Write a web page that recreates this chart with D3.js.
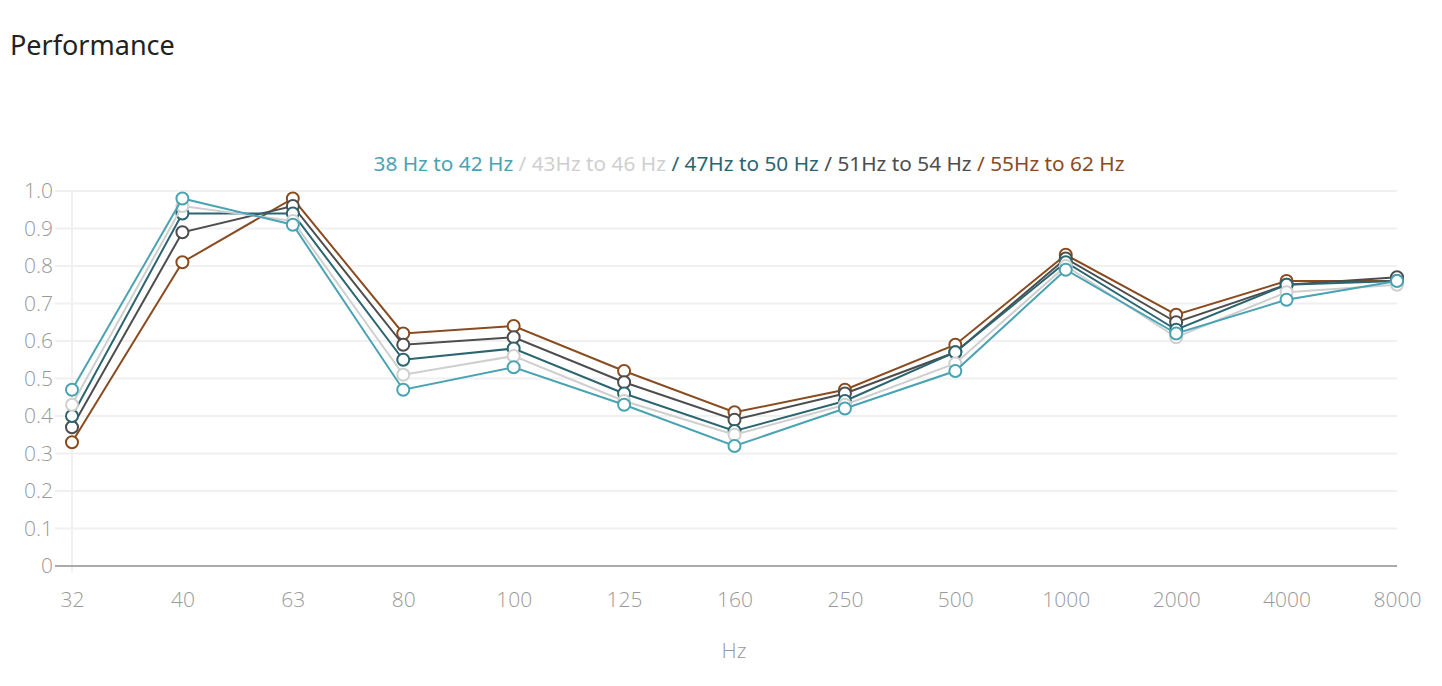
<!DOCTYPE html>
<meta charset="utf-8">
<style>
body { margin: 0; background: #fff; }
.title { font-family: "Noto Sans", sans-serif; font-size: 27px; fill: #222; }
.legend { font-family: "Noto Sans", sans-serif; font-size: 20.8px; }
.tick text, .axis-label { font-family: "Open Sans", sans-serif; font-weight: 300; font-size: 21px; fill: #999; }
.grid line { stroke: #f0f0f0; stroke-width: 2; }
</style>
<svg width="1442" height="686"></svg>
<script src="https://d3js.org/d3.v7.min.js"></script>
<script>
var categories = ["32", "40", "63", "80", "100", "125", "160", "250", "500", "1000", "2000", "4000", "8000"];
var yTicks = [0, 0.1, 0.2, 0.3, 0.4, 0.5, 0.6, 0.7, 0.8, 0.9, 1.0];

var seriesNames = ["38 Hz to 42 Hz", "43Hz to 46 Hz", "47Hz to 50 Hz", "51Hz to 54 Hz", "55Hz to 62 Hz"];
var seriesColors = ["#4aa3b2", "#cfcfcf", "#2b6570", "#4d4d4d", "#8a4b1f"];

var s38 = [0.47, 0.98, 0.91, 0.47, 0.53, 0.43, 0.32, 0.42, 0.52, 0.79, 0.62, 0.71, 0.76];
var s43 = [0.43, 0.96, 0.92, 0.51, 0.56, 0.44, 0.35, 0.43, 0.54, 0.80, 0.61, 0.73, 0.75];
var s47 = [0.40, 0.94, 0.94, 0.55, 0.58, 0.46, 0.36, 0.44, 0.57, 0.81, 0.63, 0.75, 0.76];
var s51 = [0.37, 0.89, 0.96, 0.59, 0.61, 0.49, 0.39, 0.46, 0.57, 0.82, 0.65, 0.75, 0.77];
var s55 = [0.33, 0.81, 0.98, 0.62, 0.64, 0.52, 0.41, 0.47, 0.59, 0.83, 0.67, 0.76, 0.76];
var seriesValues = [s38, s43, s47, s51, s55];

var svg = d3.select("svg");

var x = d3.scalePoint().domain(categories).range([72, 1397]);
var y = d3.scaleLinear().domain([0, 1]).range([566, 191]);

svg.append("text")
    .attr("class", "title")
    .attr("x", 10)
    .attr("y", 55)
    .text("Performance");

// legend
var legend = svg.append("text")
    .attr("class", "legend")
    .attr("x", 749)
    .attr("y", 171)
    .attr("text-anchor", "middle");
seriesNames.forEach(function(name, i) {
  legend.append("tspan")
      .attr("fill", seriesColors[i])
      .text((i > 0 ? " / " : "") + name);
});

// horizontal grid
svg.append("g")
    .attr("class", "grid")
  .selectAll("line")
  .data(yTicks.slice(1))
  .join("line")
    .attr("x1", 55)
    .attr("x2", 1397)
    .attr("y1", function(d) { return y(d); })
    .attr("y2", function(d) { return y(d); });

// vertical line at first category
svg.append("line")
    .attr("x1", x(categories[0]))
    .attr("x2", x(categories[0]))
    .attr("y1", 191)
    .attr("y2", 572)
    .attr("stroke", "#f0f0f0")
    .attr("stroke-width", 2);

// y axis labels
var yAxis = svg.append("g")
    .attr("transform", "translate(55,0)")
    .call(d3.axisLeft(y).tickValues(yTicks).tickSize(0).tickPadding(2)
      .tickFormat(function(d) { return d === 0 ? "0" : d3.format(".1f")(d); }));
yAxis.select(".domain").remove();

// x axis
var xAxis = svg.append("g")
    .attr("transform", "translate(0,566)")
    .call(d3.axisBottom(x).tickSize(0).tickPadding(26));
xAxis.select(".domain").remove();
svg.append("line")
    .attr("x1", 55)
    .attr("x2", 1397)
    .attr("y1", 566)
    .attr("y2", 566)
    .attr("stroke", "#aaa")
    .attr("stroke-width", 2);

svg.append("text")
    .attr("class", "axis-label")
    .attr("x", 734)
    .attr("y", 658)
    .attr("text-anchor", "middle")
    .text("Hz");

var line = d3.line()
    .x(function(d, i) { return x(categories[i]); })
    .y(function(d) { return y(d); });

// draw last series first so the first one sits on top
for (var k = seriesValues.length - 1; k >= 0; k--) {
  var g = svg.append("g");
  g.append("path")
      .datum(seriesValues[k])
      .attr("fill", "none")
      .attr("stroke", seriesColors[k])
      .attr("stroke-width", 2)
      .attr("d", line);
  g.selectAll("circle")
    .data(seriesValues[k])
    .join("circle")
      .attr("cx", function(d, i) { return x(categories[i]); })
      .attr("cy", function(d) { return y(d); })
      .attr("r", 6)
      .attr("fill", "#fff")
      .attr("stroke", seriesColors[k])
      .attr("stroke-width", 2);
}
</script>
